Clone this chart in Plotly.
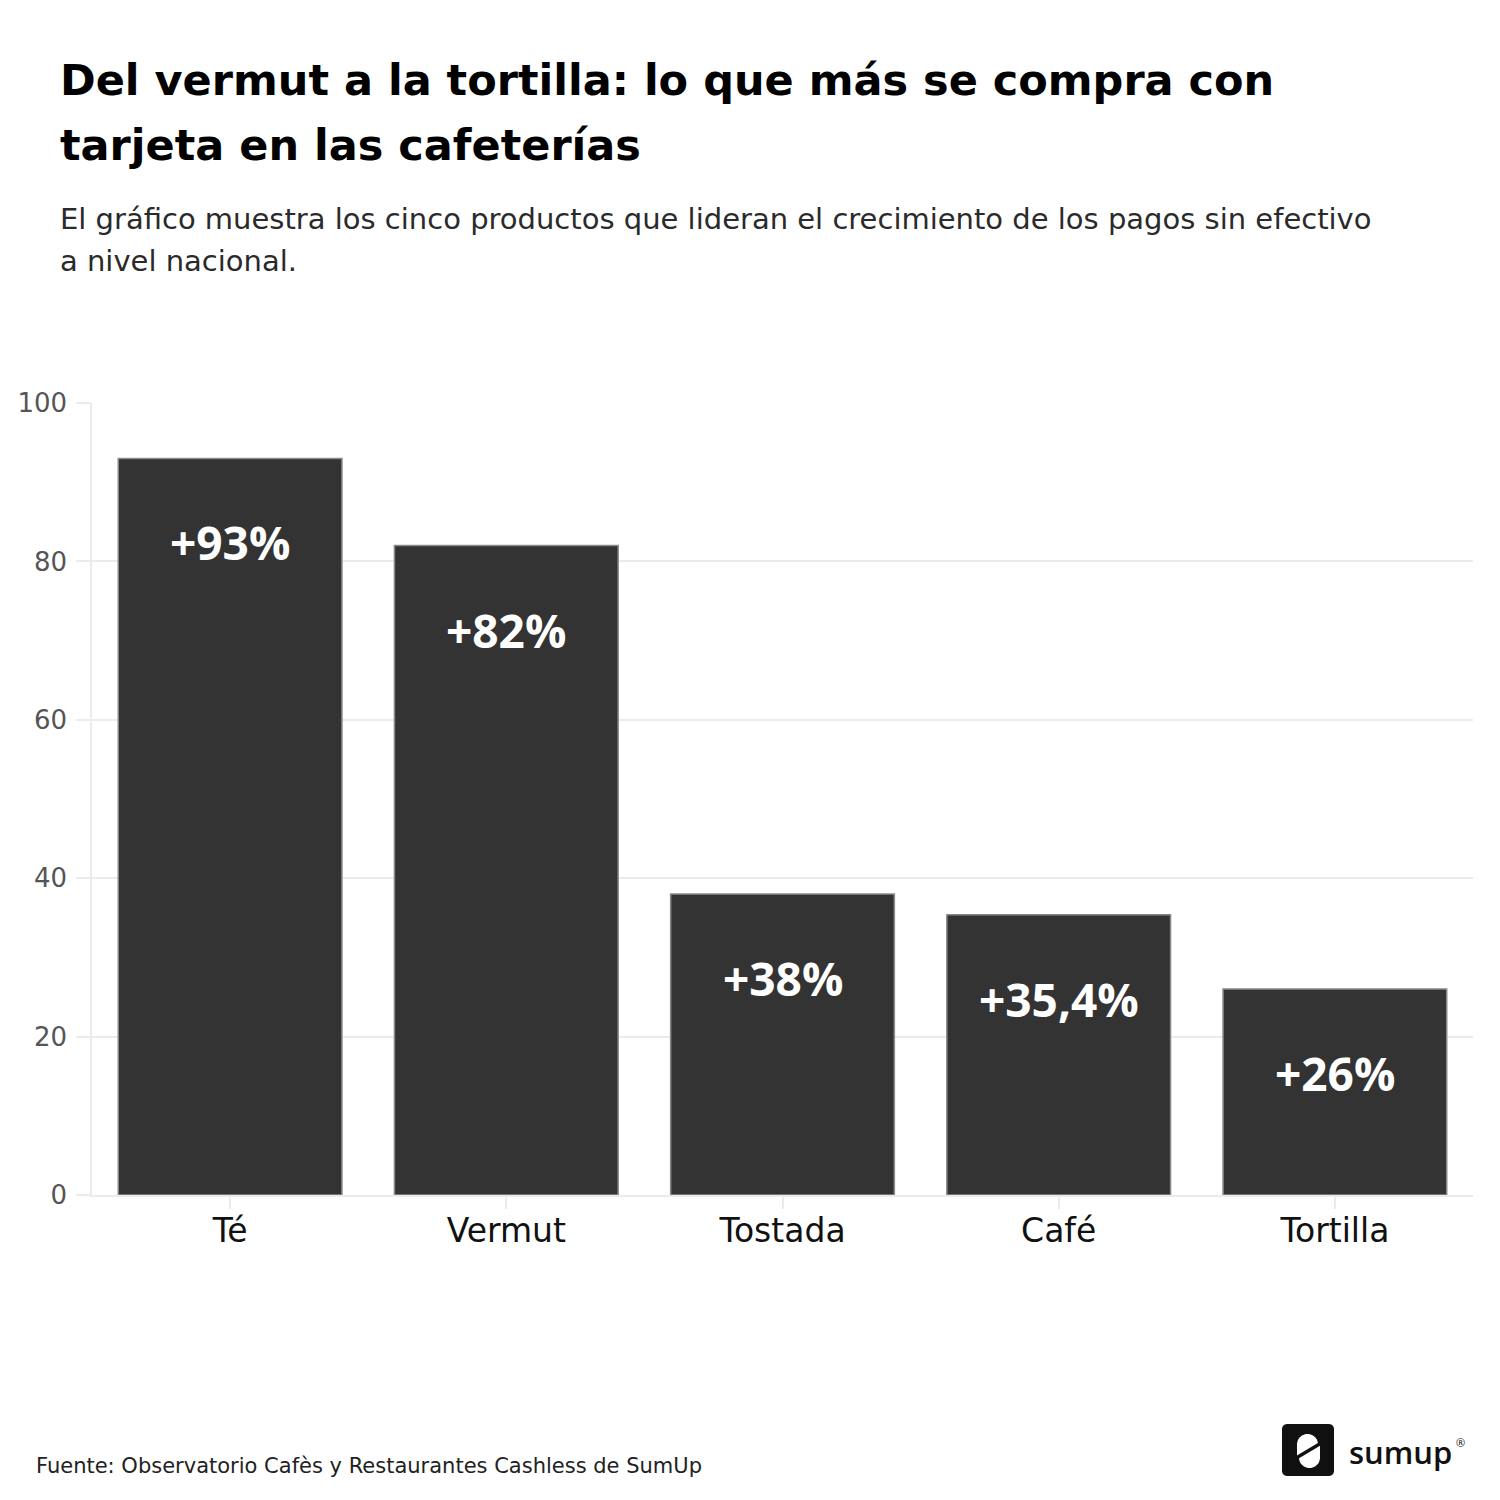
import numpy as np
import plotly.graph_objects as go

# ---- data ----
categories = ["Té", "Vermut", "Tostada", "Café", "Tortilla"]
growth = [93, 82, 38, 35.4, 26]
labels = ["+93%", "+82%", "+38%", "+35,4%", "+26%"]
y_ticks = [0, 20, 40, 60, 80, 100]

title_lines = ["Del vermut a la tortilla: lo que más se compra con",
               "tarjeta en las cafeterías"]
subtitle_lines = ["El gráfico muestra los cinco productos que lideran el crecimiento de los pagos sin efectivo",
                  "a nivel nacional."]
source = "Fuente: Observatorio Cafès y Restaurantes Cashless de SumUp"

# ---- layout geometry (pixels) ----
W = H = 1500
L, R, T, B = 92, 27, 403, 305
PW = W - L - R
PH = H - T - B


def px(x):
    return (x - L) / PW


def py(y):
    return (H - B - y) / PH


FONT = "DejaVu Sans"
LABEL_FONT = "Open Sans"
GRID = "#ebebeb"

fig = go.Figure()
fig.add_trace(go.Bar(
    x=categories, y=growth,
    marker=dict(color="#333333", line=dict(color="#8a8a8a", width=1.5)),
    hoverinfo="x+y",
))

annotations = []
for c, v, t in zip(categories, growth, labels):
    annotations.append(dict(
        x=c, y=v, xref="x", yref="y", text=t, showarrow=False,
        yanchor="middle", xanchor="center", yshift=-84,
        font=dict(family=LABEL_FONT, size=46, color="white", weight="bold"),
    ))

# title / subtitle / source
for i, line in enumerate(title_lines):
    annotations.append(dict(
        x=px(58), y=py(80 + 65 * i), xref="paper", yref="paper",
        text=line, showarrow=False, xanchor="left", yanchor="middle",
        font=dict(family=FONT, size=43, color="#000000", weight="bold"),
    ))
for i, line in enumerate(subtitle_lines):
    annotations.append(dict(
        x=px(58), y=py(219 + 42 * i), xref="paper", yref="paper",
        text=line, showarrow=False, xanchor="left", yanchor="middle",
        font=dict(family=FONT, size=29, color="#2a2a2a"),
    ))
annotations.append(dict(
    x=px(34), y=py(1466), xref="paper", yref="paper",
    text=source, showarrow=False, xanchor="left", yanchor="middle",
    font=dict(family=FONT, size=21, color="#222222"),
))
# logo text
annotations.append(dict(
    x=px(1347), y=py(1452), xref="paper", yref="paper",
    text="sumup", showarrow=False, xanchor="left", yanchor="middle",
    font=dict(family=LABEL_FONT, size=31, color="#111111", weight=600),
))
annotations.append(dict(
    x=px(1460), y=py(1442), xref="paper", yref="paper",
    text="®", showarrow=False, xanchor="center", yanchor="middle",
    font=dict(family=LABEL_FONT, size=11, color="#111111"),
))

# ---- logo shapes ----
def to_path(points):
    pts = [f"{px(x):.6f},{py(y):.6f}" for x, y in points]
    return "M" + " L".join(pts) + " Z"


def rounded_rect(x0, y0, x1, y1, r, n=8):
    pts = []
    corners = [(x1 - r, y0 + r, -90, 0), (x1 - r, y1 - r, 0, 90),
               (x0 + r, y1 - r, 90, 180), (x0 + r, y0 + r, 180, 270)]
    for cx, cy, a0, a1 in corners:
        for a in np.linspace(np.radians(a0), np.radians(a1), n):
            pts.append((cx + r * np.cos(a), cy + r * np.sin(a)))
    return pts


def clip(poly, a, b, c):
    # keep points where a*x + b*y + c >= 0
    out = []
    n = len(poly)
    for i in range(n):
        p, q = poly[i], poly[(i + 1) % n]
        fp = a * p[0] + b * p[1] + c
        fq = a * q[0] + b * q[1] + c
        if fp >= 0:
            out.append(p)
        if (fp >= 0) != (fq >= 0):
            t = fp / (fp - fq)
            out.append((p[0] + t * (q[0] - p[0]), p[1] + t * (q[1] - p[1])))
    return out


shapes = []
shapes.append(dict(type="path", xref="paper", yref="paper",
                   path=to_path(rounded_rect(1282, 1424, 1334, 1476, 5)),
                   fillcolor="#111111", line=dict(width=0)))
slope, cy0, gap = 0.6, 1451.0, 2.0
cxm = 1308.0
pill_top = rounded_rect(1297, 1434, 1318, 1468, 10.5, n=14)
pill_bot = rounded_rect(1299, 1434, 1320, 1468, 10.5, n=14)
upper = clip(pill_top, -slope, -1, cy0 + slope * cxm - gap)
lower = clip(pill_bot, slope, 1, -(cy0 + slope * cxm + gap))
for poly in (upper, lower):
    shapes.append(dict(type="path", xref="paper", yref="paper",
                       path=to_path(poly), fillcolor="white",
                       line=dict(width=0)))

fig.update_layout(
    width=W, height=H,
    margin=dict(l=L, r=R, t=T, b=B, pad=0),
    paper_bgcolor="white", plot_bgcolor="white",
    showlegend=False, bargap=0.19,
    font=dict(family=FONT),
    annotations=annotations, shapes=shapes,
    xaxis=dict(
        type="category", range=[-0.5, 4.5],
        showgrid=False, showline=True, linecolor=GRID, linewidth=1.5,
        ticks="outside", ticklen=12, tickcolor=GRID, tickwidth=1.5,
        tickfont=dict(family=FONT, size=33, color="#111111"),
        zeroline=False, ticklabelstandoff=-6,
    ),
    yaxis=dict(
        range=[0, 100], tickvals=y_ticks,
        showgrid=True, gridcolor=GRID, gridwidth=1.5,
        showline=True, linecolor=GRID, linewidth=1.5,
        ticks="outside", ticklen=14, tickcolor=GRID, tickwidth=1.5,
        tickfont=dict(family=FONT, size=26, color="#555555"),
        zeroline=False, ticklabelstandoff=4,
    ),
)

fig.write_html("out.html")
